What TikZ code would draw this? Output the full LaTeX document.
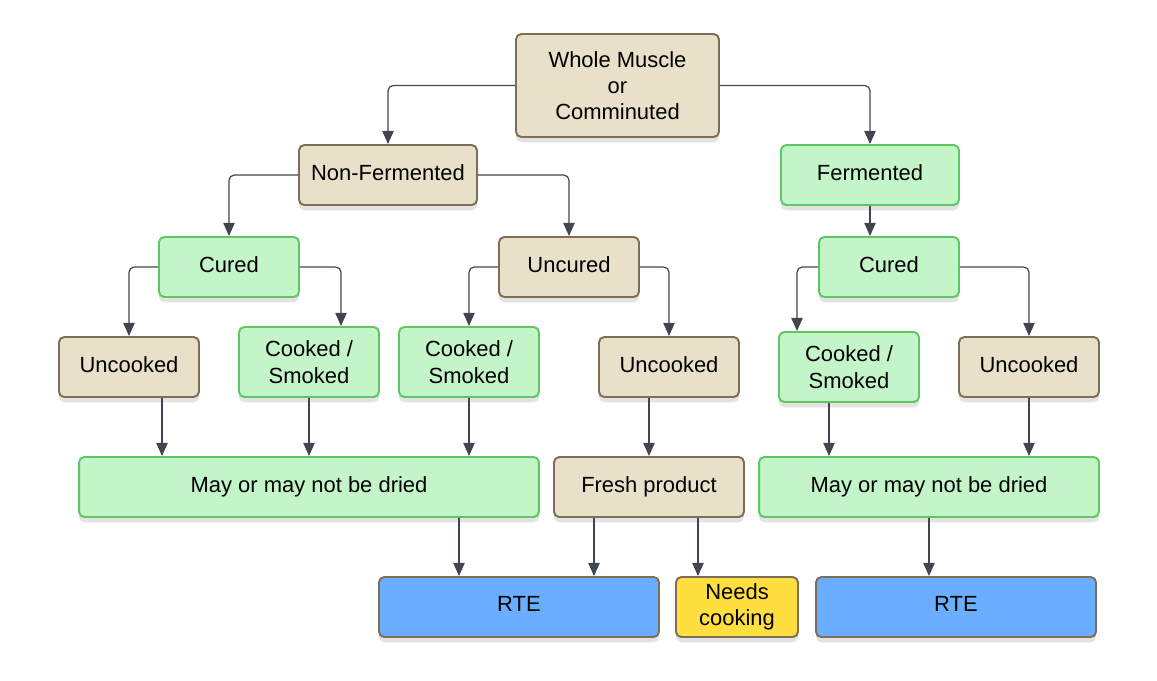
\documentclass[tikz,border=0pt]{standalone}
\usepackage{fontspec}
\setmainfont{Liberation Sans}
\usetikzlibrary{arrows.meta, shadows}

\definecolor{tanfill}{HTML}{E8E0C8}
\definecolor{tanline}{HTML}{7D6E55}
\definecolor{greenfill}{HTML}{C3F5C8}
\definecolor{greenline}{HTML}{5CC763}
\definecolor{bluefill}{HTML}{6AAFFF}
\definecolor{yellowfill}{HTML}{FFDF40}
\definecolor{linkcol}{HTML}{40454F}

\tikzset{
  box/.style={draw=tanline, line width=1.1pt, rounded corners=3pt, align=center,
    inner sep=2pt, minimum height=1.2cm, text depth=3pt, font=\fontsize{12.5}{15}\selectfont,
    drop shadow={shadow xshift=0pt, shadow yshift=-3pt, opacity=0.22}},
  multiline/.style={text depth=},
  tanbox/.style={box, fill=tanfill},
  greenbox/.style={box, fill=greenfill, draw=greenline},
  bluebox/.style={box, fill=bluefill},
  yellowbox/.style={box, fill=yellowfill},
  link/.style={draw=linkcol, line width=0.7pt, rounded corners=3pt,
    -{Triangle[length=7.5pt, width=6.5pt]}},
}

\begin{document}
\begin{tikzpicture}[x=0.02cm, y=-0.02cm]
  \useasboundingbox (0,0) rectangle (1157,680);

  % top
  \node[tanbox, multiline, minimum width=4.06cm, minimum height=2.06cm] (whole) at (617.5,85.5) {Whole Muscle\\or\\Comminuted};
  \node[tanbox, minimum width=3.56cm] (nonferm) at (388,175) {Non-Fermented};
  \node[greenbox, minimum width=3.56cm] (ferm) at (870,175) {Fermented};

  % second level
  \node[greenbox, minimum width=2.8cm] (curedA) at (229,267) {Cured};
  \node[tanbox, minimum width=2.8cm] (uncured) at (569,267) {Uncured};
  \node[greenbox, minimum width=2.8cm] (curedB) at (889,267) {Cured};

  % third level
  \node[tanbox, minimum width=2.8cm] (uncA) at (129,367) {Uncooked};
  \node[greenbox, multiline, minimum width=2.8cm, minimum height=1.4cm] (cookA) at (309,362) {Cooked /\\Smoked};
  \node[greenbox, multiline, minimum width=2.8cm, minimum height=1.4cm] (cookB) at (469,362) {Cooked /\\Smoked};
  \node[tanbox, minimum width=2.8cm] (uncB) at (669,367) {Uncooked};
  \node[greenbox, multiline, minimum width=2.8cm, minimum height=1.4cm] (cookC) at (849,367) {Cooked /\\Smoked};
  \node[tanbox, minimum width=2.8cm] (uncC) at (1029,367) {Uncooked};

  % drying
  \node[greenbox, minimum width=9.2cm] (mayA) at (309,487) {May or may not be dried};
  \node[tanbox, minimum width=3.8cm] (fresh) at (649,487) {Fresh product};
  \node[greenbox, minimum width=6.8cm] (mayB) at (929,487) {May or may not be dried};

  % outcome
  \node[bluebox, minimum width=5.6cm] (rteA) at (519,607) {RTE};
  \node[yellowbox, multiline, minimum width=2.44cm] (needs) at (737,607) {Needs\\cooking};
  \node[bluebox, minimum width=5.6cm] (rteB) at (956,607) {RTE};

  % elbow links
  \foreach \a/\s/\b/\x in {whole/west/nonferm/388, whole/east/ferm/870,
      nonferm/west/curedA/229, nonferm/east/uncured/569,
      curedA/west/uncA/129, curedA/east/cookA/341,
      uncured/west/cookB/469, uncured/east/uncB/669,
      curedB/west/cookC/797, curedB/east/uncC/1029} {
    \draw[link] (\a.\s) -| (\b.north -| \x,0);
  }

  % straight links
  \foreach \a/\b/\x in {ferm/curedB/870,
      uncA/mayA/162, cookA/mayA/309, cookB/mayA/469, uncB/fresh/649,
      cookC/mayB/829, uncC/mayB/1029,
      mayA/rteA/459, fresh/rteA/594, fresh/needs/698, mayB/rteB/929} {
    \draw[link] (\a.south -| \x,0) -- (\b.north -| \x,0);
  }
\end{tikzpicture}
\end{document}
